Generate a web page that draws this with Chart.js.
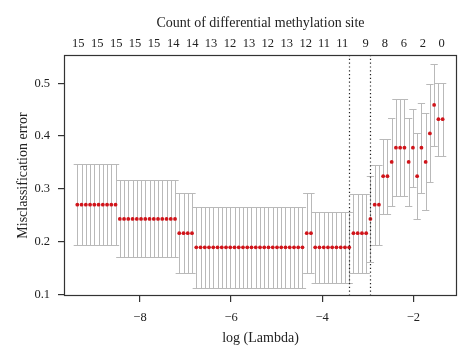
<!DOCTYPE html>
<html><head><meta charset="utf-8">
<script src="https://cdn.jsdelivr.net/npm/chart.js@4"></script>
<style>html,body{margin:0;padding:0;background:#fff;}canvas{display:block;}</style>
</head><body>
<canvas id="c" width="474" height="360"></canvas>
<script>
// ---- data ----
const logLambda = [
 -9.376,-9.283,-9.189,-9.096,-9.003,-8.910,-8.816,-8.723,-8.630,-8.537,
 -8.443,-8.350,-8.257,-8.163,-8.070,-7.977,-7.884,-7.790,-7.697,-7.604,
 -7.511,-7.417,-7.324,-7.231,-7.138,-7.044,-6.951,-6.858,-6.764,-6.671,
 -6.578,-6.485,-6.391,-6.298,-6.205,-6.112,-6.018,-5.925,-5.832,-5.739,
 -5.645,-5.552,-5.459,-5.365,-5.272,-5.179,-5.086,-4.992,-4.899,-4.806,
 -4.713,-4.619,-4.526,-4.433,-4.339,-4.246,-4.153,-4.060,-3.966,-3.873,
 -3.780,-3.687,-3.593,-3.500,-3.407,-3.314,-3.220,-3.127,-3.034,-2.941,
 -2.847,-2.754,-2.661,-2.567,-2.474,-2.381,-2.288,-2.194,-2.101,-2.008,
 -1.915,-1.821,-1.728,-1.635,-1.542,-1.448,-1.355
];
const cvMean = [
 0.270,0.270,0.270,0.270,0.270,0.270,0.270,0.270,0.270,0.270,
 0.243,0.243,0.243,0.243,0.243,0.243,0.243,0.243,0.243,0.243,
 0.243,0.243,0.243,0.243,0.216,0.216,0.216,0.216,0.189,0.189,
 0.189,0.189,0.189,0.189,0.189,0.189,0.189,0.189,0.189,0.189,
 0.189,0.189,0.189,0.189,0.189,0.189,0.189,0.189,0.189,0.189,
 0.189,0.189,0.189,0.189,0.216,0.216,0.189,0.189,0.189,0.189,
 0.189,0.189,0.189,0.189,0.189,0.216,0.216,0.216,0.216,0.243,
 0.270,0.270,0.324,0.324,0.351,0.378,0.378,0.378,0.351,0.378,
 0.324,0.378,0.351,0.405,0.459,0.432,0.432
];
const cvSd = [
 0.077,0.077,0.077,0.077,0.077,0.077,0.077,0.077,0.077,0.077,
 0.073,0.073,0.073,0.073,0.073,0.073,0.073,0.073,0.073,0.073,
 0.073,0.073,0.073,0.073,0.076,0.076,0.076,0.076,0.077,0.077,
 0.077,0.077,0.077,0.077,0.077,0.077,0.077,0.077,0.077,0.077,
 0.077,0.077,0.077,0.077,0.077,0.077,0.077,0.077,0.077,0.077,
 0.077,0.077,0.077,0.077,0.076,0.076,0.067,0.067,0.067,0.067,
 0.067,0.067,0.067,0.067,0.067,0.075,0.075,0.075,0.075,0.081,
 0.076,0.076,0.071,0.071,0.083,0.092,0.092,0.092,0.083,0.074,
 0.082,0.085,0.092,0.093,0.077,0.069,0.069
];
const topTickPositions = [-9.355,-8.937,-8.520,-8.110,-7.693,-7.269,-6.852,-6.441,-6.024,-5.607,
 -5.196,-4.779,-4.362,-3.960,-3.558,-3.045,-2.621,-2.204,-1.787,-1.377];
const topTickLabels = ['15','15','15','15','15','14','14','13','12','13','12','13','12','11','11','9','8','6','2','0'];
const xTickValues = [-8,-6,-4,-2];
const xTickLabels = ['\u22128','\u22126','\u22124','\u22122'];
const yTickValues = [0.1,0.2,0.3,0.4,0.5];
const yTickLabels = ['0.1','0.2','0.3','0.4','0.5'];
const lambdaMin = -3.407;
const lambda1se = -2.941;

// ---- style ----
const F = "'Liberation Serif', 'DejaVu Serif', serif";
const TXT = '#222';
const CAP = 0.08;

const errorBars = {
  id:'errorBars',
  beforeDatasetsDraw(chart){
    const {ctx, scales:{x, y}} = chart;
    ctx.save();
    ctx.strokeStyle = '#b9b9b9';
    ctx.lineWidth = 1;
    ctx.beginPath();
    for (let i = 0; i < logLambda.length; i++){
      const px = Math.round(x.getPixelForValue(logLambda[i])) + 0.5;
      const yu = Math.round(y.getPixelForValue(cvMean[i] + cvSd[i])) + 0.5;
      const yl = Math.round(y.getPixelForValue(cvMean[i] - cvSd[i])) + 0.5;
      const xl = x.getPixelForValue(logLambda[i] - CAP);
      const xr = x.getPixelForValue(logLambda[i] + CAP);
      ctx.moveTo(px, yu); ctx.lineTo(px, yl);
      ctx.moveTo(xl, yu); ctx.lineTo(xr, yu);
      ctx.moveTo(xl, yl); ctx.lineTo(xr, yl);
    }
    ctx.stroke();
    ctx.restore();
  },
  afterDatasetsDraw(chart){
    const {ctx, chartArea:a, scales:{x}} = chart;
    ctx.save();
    ctx.strokeStyle = '#222';
    ctx.lineWidth = 1.2;
    ctx.setLineDash([1.2, 2.6]);
    [lambdaMin, lambda1se].forEach(v => {
      const px = Math.round(x.getPixelForValue(v)) + 0.5;
      ctx.beginPath(); ctx.moveTo(px, a.top); ctx.lineTo(px, a.bottom); ctx.stroke();
    });
    ctx.setLineDash([]);
    ctx.strokeStyle = '#333';
    ctx.lineWidth = 1.2;
    ctx.strokeRect(a.left + 0.5, a.top + 0.5, a.right - a.left - 1, a.bottom - a.top - 1);
    ctx.restore();
  }
};

new Chart(document.getElementById('c'), {
  type: 'scatter',
  data: {
    datasets: [{
      data: logLambda.map((v, i) => ({x: v, y: cvMean[i]})),
      pointRadius: 1.9,
      pointBackgroundColor: '#d0141a',
      pointBorderWidth: 0,
      showLine: false,
      xAxisID: 'x', yAxisID: 'y'
    }]
  },
  options: {
    responsive: false, animation: false, devicePixelRatio: 1,
    layout: {padding: {left: 0, right: 17, top: 0, bottom: 0}},
    plugins: {legend: {display: false}, tooltip: {enabled: false}},
    scales: {
      x: {
        type: 'linear', position: 'bottom', min: -9.6685, max: -1.040,
        afterBuildTicks: s => { s.ticks = xTickValues.map(v => ({value: v})); },
        afterFit: s => { s.height = 64; },
        ticks: {callback: (v, i) => xTickLabels[i], font: {family: F, size: 12.5}, color: TXT, padding: 8, maxRotation: 0, autoSkip: false},
        grid: {display: true, drawOnChartArea: false, drawTicks: true, tickLength: 6, color: '#333', lineWidth: 1.2},
        border: {display: false},
        title: {display: true, text: 'log (Lambda)', font: {family: F, size: 14}, color: TXT, padding: {top: 0, bottom: 13.5}}
      },
      x2: {
        type: 'linear', axis: 'x', position: 'top', min: -9.6685, max: -1.040,
        afterBuildTicks: s => { s.ticks = topTickPositions.map(v => ({value: v})); },
        afterFit: s => { s.height = 55; },
        ticks: {callback: (v, i) => topTickLabels[i], font: {family: F, size: 12.5}, color: TXT, padding: -4.5, maxRotation: 0, autoSkip: false},
        grid: {display: false},
        border: {display: false},
        title: {display: true, text: 'Count of differential methylation site', font: {family: F, size: 14}, color: TXT, padding: {top: 14.6, bottom: 0}}
      },
      y: {
        type: 'linear', position: 'left', min: 0.0968, max: 0.5537,
        afterBuildTicks: s => { s.ticks = yTickValues.map(v => ({value: v})); },
        afterFit: s => { s.width = 64; },
        ticks: {callback: (v, i) => yTickLabels[i], font: {family: F, size: 12.5}, color: TXT, padding: 8},
        grid: {display: true, drawOnChartArea: false, drawTicks: true, tickLength: 6, color: '#333', lineWidth: 1.2},
        border: {display: false},
        title: {display: true, text: 'Misclassification error', font: {family: F, size: 14}, color: TXT, padding: {top: 14.6, bottom: 0}}
      }
    }
  },
  plugins: [errorBars]
});
</script>
</body></html>
